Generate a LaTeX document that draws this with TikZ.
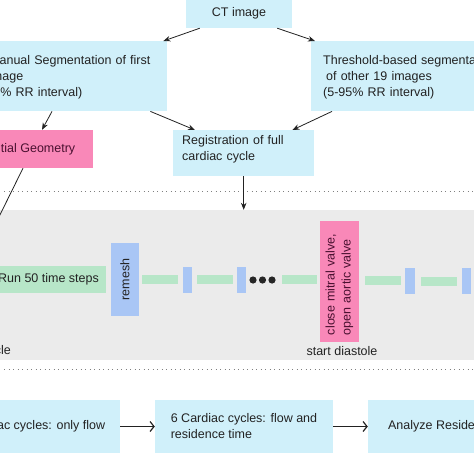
\documentclass[tikz,border=0pt]{standalone}
\usepackage{fontspec}
\setmainfont{Liberation Sans}
\usetikzlibrary{arrows.meta}
\definecolor{boxcyan}{HTML}{D0F0FA}
\definecolor{pinkbox}{HTML}{F988B8}
\definecolor{greenbar}{HTML}{B7E6C8}
\definecolor{bluebox}{HTML}{A9C6F5}
\definecolor{graybg}{HTML}{EBEBEB}
\definecolor{maroon}{HTML}{4A1030}
\definecolor{ink}{HTML}{222222}
\tikzset{
  stage/.style={fill=boxcyan, text=ink, inner ysep=0pt, align=left},
  flow/.style={fill=boxcyan, text=ink, minimum width=178, minimum height=53, inner sep=0pt, align=left},
  bar/.style={fill=greenbar, minimum width=36, minimum height=9, inner sep=0pt},
  tick/.style={fill=bluebox, minimum width=9.5, minimum height=26, inner sep=0pt},
  arr/.style={-{Stealth[length=7pt,width=5.5pt]}, line width=0.8pt, ink},
  arrb/.style={-{Straight Barb[length=4pt,width=10pt]}, line width=1.2pt, ink},
  sep/.style={gray, line width=1pt, dash pattern=on 0.9pt off 3.6pt}
}
\begin{document}
\begin{tikzpicture}[x=1pt, y=-1pt, font=\fontsize{12.5}{16}\selectfont]
\useasboundingbox (0,0) rectangle (474,474);
\clip (0,0) rectangle (474,474);
% one cardiac cycle
\node[fill=graybg, minimum width=560, minimum height=150, inner sep=0pt] (loop) at (240,285) {};
\draw[sep] (-5,191) -- (480,191);
\draw[sep] (-5,369) -- (480,369);
% geometry
\node[stage, minimum width=106, minimum height=30] (ct) at (239,13) {CT image};
\node[stage, anchor=north west, inner xsep=14pt, text width=164pt, text height=23.5pt, text depth=46.5pt] (manual) at (-25,41) {Manual Segmentation of first\\image\\(0\% RR interval)};
\node[stage, anchor=north west, inner xsep=12pt, text width=176pt, text height=23.5pt, text depth=46.5pt] (thresh) at (311,41) {Threshold-based segmentation\\\hspace*{3pt}of other 19 images\\(5-95\% RR interval)};
\node[stage, anchor=north west, inner xsep=9pt, text width=123pt, text height=14.5pt, text depth=31.5pt] (reg) at (173,130) {Registration of full\\cardiac cycle};
\node[fill=pinkbox, text=maroon, minimum width=123, minimum height=38, inner sep=0pt] (init) at (31.5,149) {Initial Geometry};
\coordinate (entry) at (-8,231);
\draw[arr] ([xshift=14pt]ct.south west) -- ([xshift=-4pt]manual.north east);
\draw[arr] ([xshift=-15pt]ct.south east) -- ([xshift=4pt]thresh.north west);
\draw[arr] ([xshift=-17pt]manual.south east) -- ([xshift=22pt]reg.north west);
\draw[arr] ([xshift=21pt]thresh.south west) -- ([xshift=-22pt]reg.north east);
\draw[arr] ([xshift=77pt]manual.south west) -- ([xshift=10.5pt]init.north);
\draw[line width=0.8pt, ink] ([xshift=-8.5pt]init.south) -- (entry);
\draw[arr] (reg.south) -- (reg.south |- loop.north);
% time steps
\node[fill=greenbar, text=ink, minimum width=115, minimum height=27, inner sep=0pt] (run) at (48.5,279.5) {Run 50 time steps};
\node[fill=bluebox, text=ink, rotate=90, minimum width=73, minimum height=28, inner sep=0pt] (remesh) at (125,279.5) {remesh};
\node[bar] (bar1) at (160,279.5) {};
\node[tick] (tick1) at (187.5,280) {};
\node[bar] (bar2) at (214.5,279.5) {};
\node[tick] (tick2) at (241.5,280) {};
\foreach \x in {253,262.5,272} \fill[black!85] (\x,280) circle (3.6);
\node[bar, minimum width=35] (bar3) at (299.5,279.5) {};
\node[fill=pinkbox, text=maroon, rotate=90, minimum width=121, minimum height=39, inner xsep=7pt, inner ysep=0pt, text width=107pt, align=left] (valve) at (339.5,281.5) {close mitral valve,\\open aortic valve};
\node[bar] (bar4) at (383,280.5) {};
\node[tick] (tick3) at (410,280.5) {};
\node[bar] (bar5) at (439,281) {};
\node[tick] (tick4) at (466.7,280.5) {};
\node[text=ink, anchor=east, inner sep=0pt] (systole) at (11,351) {start cycle};
\node[text=ink, inner sep=0pt] (diastole) at (342,351) {start diastole};
% simulation runs
\node[flow] (warmup) at (31,426.5) {2 Cardiac cycles: only flow};
\node[flow] (residence) at (244,426.5) {6 Cardiac cycles: flow and\\residence time};
\node[flow] (analyze) at (457,426.5) {Analyze Residence Time};
\draw[arrb] (warmup) -- (residence);
\draw[arrb] (residence) -- (analyze);
\end{tikzpicture}
\end{document}
